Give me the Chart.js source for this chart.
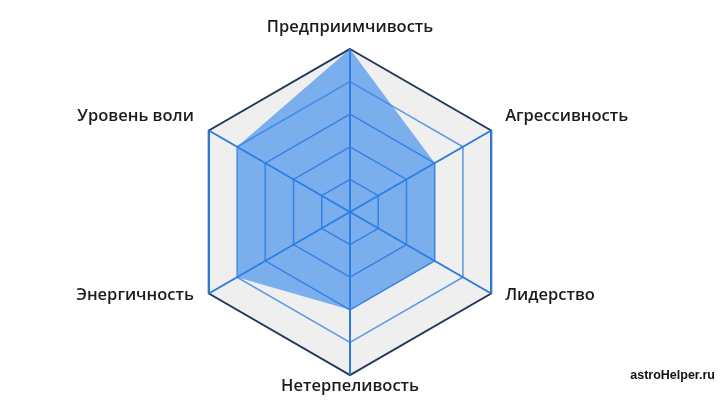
<!DOCTYPE html>
<html>
<head>
<meta charset="utf-8">
<script src="https://cdn.jsdelivr.net/npm/chart.js@4"></script>
<style>
  html, body { margin: 0; padding: 0; background: #fff; }
  #wrap { position: relative; width: 726px; height: 406px; }
  #mark { position: absolute; right: 11px; top: 368px; font: bold 12.5px 'Liberation Sans', Arial, sans-serif; color: #111; }
</style>
</head>
<body>
<div id="wrap">
  <canvas id="chart" width="726" height="406"></canvas>
  <div id="mark">astroHelper.ru</div>
</div>
<script>
// axes go clockwise from the top
var traits = ['Предприимчивость', 'Агрессивность', 'Лидерство', 'Нетерпеливость', 'Энергичность', 'Уровень воли'];
var scores = [5, 3, 3, 3, 4, 4];
var scaleMax = 5;

// axis names sit next to the outer corners; offsets depend on which corner
function labelPlacement(i, n) {
    var deg = i * 360 / n;
    if (deg === 0) return { dx: 0, dy: -22, align: 'center' };
    if (deg === 180) return { dx: 0, dy: 11, align: 'center' };
    var right = deg < 180;
    var upper = deg < 90 || deg > 270;
    return {
        dx: right ? 14 : -15,
        dy: upper ? -14 : 1.5,
        align: right ? 'left' : 'right'
    };
}

var cornerLabels = {
    id: 'cornerLabels',
    afterDraw: function(chart) {
        var r = chart.scales.r;
        var ctx = chart.ctx;
        var dist = r.getDistanceFromCenterForValue(scaleMax);
        ctx.save();
        ctx.font = '600 16.5px "Open Sans"';
        ctx.fillStyle = '#1b1b1b';
        ctx.textBaseline = 'middle';
        traits.forEach(function(name, i) {
            var p = r.getPointPosition(i, dist);
            var pl = labelPlacement(i, traits.length);
            ctx.textAlign = pl.align;
            ctx.fillText(name, p.x + pl.dx, p.y + pl.dy);
        });
        ctx.restore();
    }
};

// redraw the two vertical sides of the outer hexagon in blue
var sideEdges = {
    id: 'sideEdges',
    afterDatasetsDraw: function(chart) {
        var r = chart.scales.r;
        var ctx = chart.ctx;
        var dist = r.getDistanceFromCenterForValue(scaleMax);
        ctx.save();
        ctx.strokeStyle = '#2a7bdc';
        ctx.lineWidth = 2;
        [[1, 2], [4, 5]].forEach(function(pair) {
            var a = r.getPointPosition(pair[0], dist);
            var b = r.getPointPosition(pair[1], dist);
            ctx.beginPath();
            ctx.moveTo(a.x, a.y);
            ctx.lineTo(b.x, b.y);
            ctx.stroke();
        });
        ctx.restore();
    }
};

var ctx = document.getElementById('chart').getContext('2d');
var myChart = new Chart(ctx, {
    type: 'radar',
    data: {
        labels: traits,
        datasets: [{
            data: scores,
            backgroundColor: 'rgba(45, 130, 235, 0.6)',
            borderWidth: 0,
            pointRadius: 0
        }]
    },
    options: {
        responsive: false,
        animation: false,
        layout: { padding: { top: 49, bottom: 31, left: 0, right: 26 } },
        plugins: {
            legend: { display: false },
            tooltip: { enabled: false }
        },
        scales: {
            r: {
                min: 0,
                max: scaleMax,
                backgroundColor: '#efefef',
                ticks: { display: false, stepSize: 1 },
                angleLines: { color: '#2a7bdc', lineWidth: 2 },
                grid: {
                    color: function(c) {
                        if (c.index === 5) return '#22395a';
                        if (c.index === 4) return '#5b9be6';
                        return '#3d85dc';
                    },
                    lineWidth: function(c) {
                        return c.index === 5 ? 2 : 1.5;
                    }
                },
                pointLabels: { display: false }
            }
        }
    },
    plugins: [sideEdges, cornerLabels]
});
</script>
</body>
</html>
